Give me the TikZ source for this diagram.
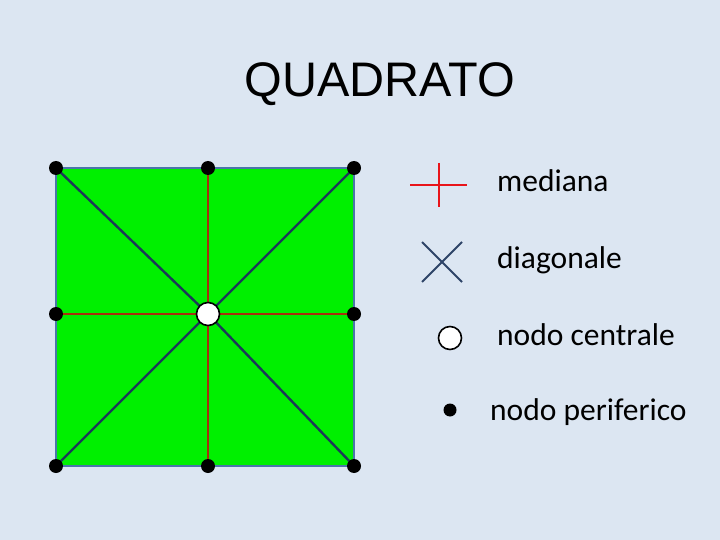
\documentclass[tikz,border=0pt]{standalone}
\usepackage{fontspec}
\setmainfont{Carlito}
\newfontfamily\titlefont{Liberation Sans}
\begin{document}
\begin{tikzpicture}[x=1pt,y=-1pt,
  diag/.style={draw=diagblue,line width=2.4pt},
  med/.style={draw=medred,line width=2.4pt},
  pdot/.style={circle,fill=black,inner sep=0pt,minimum size=14pt},
  cdot/.style={circle,draw=black,fill=white,line width=1.6pt,inner sep=0pt,minimum size=23pt},
  legtext/.style={anchor=base west,inner sep=0pt,font=\fontsize{31.5}{38}\selectfont}
]
\definecolor{bg}{HTML}{DCE6F2}
\definecolor{sqgreen}{HTML}{00F000}
\definecolor{sqborder}{HTML}{4A76A8}
\definecolor{diagblue}{HTML}{1C3A58}
\definecolor{medred}{HTML}{A8300C}
\definecolor{legred}{HTML}{E8141A}
\definecolor{legblue}{HTML}{2E4468}
\fill[bg] (0,0) rectangle (720,540);
\useasboundingbox (0,0) rectangle (720,540);

% title
\node[anchor=base,inner sep=0pt,font=\titlefont\fontsize{48.5}{58}\selectfont] (title) at (380,97) {QUADRATO};

% square
\coordinate (tl) at (56,168);
\coordinate (tr) at (354,168);
\coordinate (bl) at (56,466);
\coordinate (br) at (354,466);
\coordinate (tm) at (208,168);
\coordinate (bm) at (208,466);
\coordinate (lm) at (56,314);
\coordinate (rm) at (354,314);
\coordinate (c) at (208,314);
\draw[fill=sqgreen,draw=sqborder,line width=2pt] (tl) -- (tr) -- (br) -- (bl) -- cycle;
\draw[diag] (tl) -- (c) -- (br);
\draw[diag] (tr) -- (c) -- (bl);
\draw[med] (tm) -- (bm);
\draw[med] (lm) -- (rm);
\foreach \p in {tl,tr,bl,br,tm,bm,lm,rm} \node[pdot] (d\p) at (\p) {};
\node[cdot] (center) at (c) {};

% legend
\coordinate (mh1) at (410,185);
\coordinate (mh2) at (467,185);
\coordinate (mv1) at (439,163);
\coordinate (mv2) at (439,207);
\draw[draw=legred,line width=1.8pt] (mh1) -- (mh2);
\draw[draw=legred,line width=1.8pt] (mv1) -- (mv2);
\coordinate (x1) at (422,242);
\coordinate (x2) at (462,282);
\coordinate (x3) at (462,242);
\coordinate (x4) at (422,282);
\draw[draw=legblue,line width=1.8pt] (x1) -- (x2);
\draw[draw=legblue,line width=1.8pt] (x3) -- (x4);
\node[circle,draw=black,fill=white,line width=1.6pt,inner sep=0pt,minimum size=23pt] (legc) at (450,338) {};
\node[circle,fill=black,inner sep=0pt,minimum size=13pt] (legp) at (450,410) {};

\node[legtext] (t1) at (497,192) {mediana};
\node[legtext] (t2) at (497,268) {diagonale};
\node[legtext] (t3) at (497,345) {nodo centrale};
\node[legtext] (t4) at (490,420) {nodo periferico};
\end{tikzpicture}
\end{document}
